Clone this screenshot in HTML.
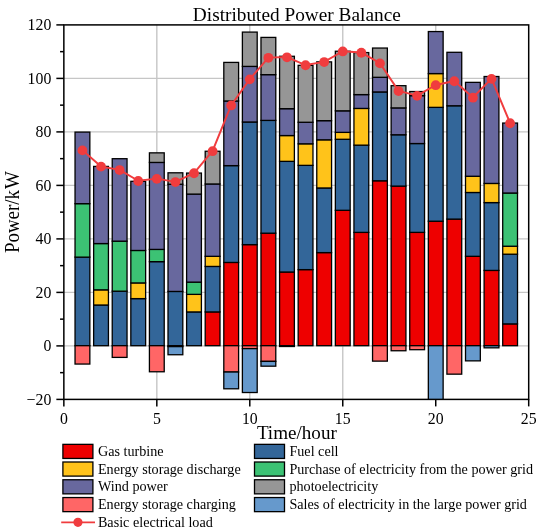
<!DOCTYPE html><html><head><meta charset="utf-8"><title>Distributed Power Balance</title>
<style>html,body{margin:0;padding:0;background:#fff}svg{display:block}text{font-family:"Liberation Serif","Times New Roman",serif;fill:#000}</style></head><body>
<svg width="550" height="532" viewBox="0 0 550 532">
<rect width="550" height="532" fill="#fff"/>
<g stroke="#c6c6c6" stroke-width="1.4"><line x1="156.82" y1="24.90" x2="156.82" y2="399.40"/><line x1="249.79" y1="24.90" x2="249.79" y2="399.40"/><line x1="342.76" y1="24.90" x2="342.76" y2="399.40"/><line x1="435.73" y1="24.90" x2="435.73" y2="399.40"/><line x1="63.85" y1="345.90" x2="528.70" y2="345.90"/><line x1="63.85" y1="292.40" x2="528.70" y2="292.40"/><line x1="63.85" y1="238.90" x2="528.70" y2="238.90"/><line x1="63.85" y1="185.40" x2="528.70" y2="185.40"/><line x1="63.85" y1="131.90" x2="528.70" y2="131.90"/><line x1="63.85" y1="78.40" x2="528.70" y2="78.40"/></g>
<defs><clipPath id="cp"><rect x="63.85" y="24.90" width="464.85" height="374.50"/></clipPath></defs>
<g clip-path="url(#cp)" stroke="#000" stroke-width="1.3"><rect x="75.04" y="257.12" width="14.8" height="88.58" fill="#336699"/><rect x="75.04" y="203.66" width="14.8" height="53.47" fill="#3CC274"/><rect x="75.04" y="132.10" width="14.8" height="71.55" fill="#68689E"/><rect x="75.04" y="345.70" width="14.8" height="18.35" fill="#FF6666"/><rect x="93.64" y="305.00" width="14.8" height="40.70" fill="#336699"/><rect x="93.64" y="289.84" width="14.8" height="15.16" fill="#FFC31A"/><rect x="93.64" y="243.56" width="14.8" height="46.28" fill="#3CC274"/><rect x="93.64" y="166.42" width="14.8" height="77.14" fill="#68689E"/><rect x="112.23" y="291.17" width="14.8" height="54.53" fill="#336699"/><rect x="112.23" y="241.16" width="14.8" height="50.01" fill="#3CC274"/><rect x="112.23" y="158.70" width="14.8" height="82.46" fill="#68689E"/><rect x="112.23" y="345.70" width="14.8" height="11.70" fill="#FF6666"/><rect x="130.83" y="298.62" width="14.8" height="47.08" fill="#336699"/><rect x="130.83" y="282.92" width="14.8" height="15.69" fill="#FFC31A"/><rect x="130.83" y="250.47" width="14.8" height="32.45" fill="#3CC274"/><rect x="130.83" y="181.31" width="14.8" height="69.16" fill="#68689E"/><rect x="149.42" y="261.64" width="14.8" height="84.06" fill="#336699"/><rect x="149.42" y="249.41" width="14.8" height="12.24" fill="#3CC274"/><rect x="149.42" y="162.43" width="14.8" height="86.98" fill="#68689E"/><rect x="149.42" y="152.85" width="14.8" height="9.58" fill="#969696"/><rect x="149.42" y="345.70" width="14.8" height="26.07" fill="#FF6666"/><rect x="168.01" y="291.44" width="14.8" height="54.26" fill="#336699"/><rect x="168.01" y="184.24" width="14.8" height="107.20" fill="#68689E"/><rect x="168.01" y="172.80" width="14.8" height="11.44" fill="#969696"/><rect x="168.01" y="345.70" width="14.8" height="0.93" fill="#FF6666"/><rect x="168.01" y="346.63" width="14.8" height="8.11" fill="#6699CC"/><rect x="186.61" y="311.92" width="14.8" height="33.78" fill="#336699"/><rect x="186.61" y="294.36" width="14.8" height="17.56" fill="#FFC31A"/><rect x="186.61" y="282.13" width="14.8" height="12.24" fill="#3CC274"/><rect x="186.61" y="194.08" width="14.8" height="88.05" fill="#68689E"/><rect x="186.61" y="173.07" width="14.8" height="21.01" fill="#969696"/><rect x="205.20" y="311.92" width="14.8" height="33.78" fill="#EE0000"/><rect x="205.20" y="266.43" width="14.8" height="45.49" fill="#336699"/><rect x="205.20" y="256.32" width="14.8" height="10.11" fill="#FFC31A"/><rect x="205.20" y="183.97" width="14.8" height="72.35" fill="#68689E"/><rect x="205.20" y="151.25" width="14.8" height="32.72" fill="#969696"/><rect x="223.80" y="262.44" width="14.8" height="83.26" fill="#EE0000"/><rect x="223.80" y="165.62" width="14.8" height="96.82" fill="#336699"/><rect x="223.80" y="100.98" width="14.8" height="64.64" fill="#68689E"/><rect x="223.80" y="62.41" width="14.8" height="38.57" fill="#969696"/><rect x="223.80" y="345.70" width="14.8" height="26.33" fill="#FF6666"/><rect x="223.80" y="372.03" width="14.8" height="16.76" fill="#6699CC"/><rect x="242.39" y="244.62" width="14.8" height="101.08" fill="#EE0000"/><rect x="242.39" y="121.99" width="14.8" height="122.63" fill="#336699"/><rect x="242.39" y="66.40" width="14.8" height="55.59" fill="#68689E"/><rect x="242.39" y="32.09" width="14.8" height="34.31" fill="#969696"/><rect x="242.39" y="345.70" width="14.8" height="2.93" fill="#FF6666"/><rect x="242.39" y="348.63" width="14.8" height="43.89" fill="#6699CC"/><rect x="260.98" y="233.18" width="14.8" height="112.52" fill="#EE0000"/><rect x="260.98" y="120.40" width="14.8" height="112.78" fill="#336699"/><rect x="260.98" y="74.65" width="14.8" height="45.75" fill="#68689E"/><rect x="260.98" y="37.41" width="14.8" height="37.24" fill="#969696"/><rect x="260.98" y="345.70" width="14.8" height="15.69" fill="#FF6666"/><rect x="260.98" y="361.39" width="14.8" height="4.79" fill="#6699CC"/><rect x="279.58" y="272.02" width="14.8" height="73.68" fill="#EE0000"/><rect x="279.58" y="161.36" width="14.8" height="110.66" fill="#336699"/><rect x="279.58" y="135.56" width="14.8" height="25.80" fill="#FFC31A"/><rect x="279.58" y="108.69" width="14.8" height="26.87" fill="#68689E"/><rect x="279.58" y="56.29" width="14.8" height="52.40" fill="#969696"/><rect x="279.58" y="345.70" width="14.8" height="0.80" fill="#FF6666"/><rect x="298.17" y="269.62" width="14.8" height="76.08" fill="#EE0000"/><rect x="298.17" y="165.35" width="14.8" height="104.27" fill="#336699"/><rect x="298.17" y="143.81" width="14.8" height="21.55" fill="#FFC31A"/><rect x="298.17" y="122.26" width="14.8" height="21.55" fill="#68689E"/><rect x="298.17" y="65.34" width="14.8" height="56.92" fill="#969696"/><rect x="316.77" y="252.60" width="14.8" height="93.10" fill="#EE0000"/><rect x="316.77" y="187.96" width="14.8" height="64.64" fill="#336699"/><rect x="316.77" y="139.82" width="14.8" height="48.15" fill="#FFC31A"/><rect x="316.77" y="120.66" width="14.8" height="19.15" fill="#68689E"/><rect x="316.77" y="61.88" width="14.8" height="58.79" fill="#969696"/><rect x="335.36" y="210.31" width="14.8" height="135.39" fill="#EE0000"/><rect x="335.36" y="139.28" width="14.8" height="71.02" fill="#336699"/><rect x="335.36" y="132.37" width="14.8" height="6.92" fill="#FFC31A"/><rect x="335.36" y="110.82" width="14.8" height="21.55" fill="#68689E"/><rect x="335.36" y="51.24" width="14.8" height="59.58" fill="#969696"/><rect x="353.95" y="232.38" width="14.8" height="113.32" fill="#EE0000"/><rect x="353.95" y="145.14" width="14.8" height="87.25" fill="#336699"/><rect x="353.95" y="108.43" width="14.8" height="36.71" fill="#FFC31A"/><rect x="353.95" y="94.60" width="14.8" height="13.83" fill="#68689E"/><rect x="353.95" y="52.57" width="14.8" height="42.03" fill="#969696"/><rect x="372.55" y="180.78" width="14.8" height="164.92" fill="#EE0000"/><rect x="372.55" y="91.94" width="14.8" height="88.84" fill="#336699"/><rect x="372.55" y="77.31" width="14.8" height="14.63" fill="#68689E"/><rect x="372.55" y="48.05" width="14.8" height="29.26" fill="#969696"/><rect x="372.55" y="345.70" width="14.8" height="15.43" fill="#FF6666"/><rect x="391.14" y="186.10" width="14.8" height="159.60" fill="#EE0000"/><rect x="391.14" y="134.76" width="14.8" height="51.34" fill="#336699"/><rect x="391.14" y="107.90" width="14.8" height="26.87" fill="#68689E"/><rect x="391.14" y="85.69" width="14.8" height="22.21" fill="#969696"/><rect x="391.14" y="345.70" width="14.8" height="5.05" fill="#FF6666"/><rect x="409.74" y="232.38" width="14.8" height="113.32" fill="#EE0000"/><rect x="409.74" y="143.54" width="14.8" height="88.84" fill="#336699"/><rect x="409.74" y="95.66" width="14.8" height="47.88" fill="#68689E"/><rect x="409.74" y="91.54" width="14.8" height="4.12" fill="#969696"/><rect x="409.74" y="345.70" width="14.8" height="3.99" fill="#FF6666"/><rect x="428.33" y="221.21" width="14.8" height="124.49" fill="#EE0000"/><rect x="428.33" y="107.36" width="14.8" height="113.85" fill="#336699"/><rect x="428.33" y="73.58" width="14.8" height="33.78" fill="#FFC31A"/><rect x="428.33" y="31.55" width="14.8" height="42.03" fill="#68689E"/><rect x="428.33" y="345.70" width="14.8" height="58.52" fill="#6699CC"/><rect x="446.92" y="219.08" width="14.8" height="126.62" fill="#EE0000"/><rect x="446.92" y="105.77" width="14.8" height="113.32" fill="#336699"/><rect x="446.92" y="52.30" width="14.8" height="53.47" fill="#68689E"/><rect x="446.92" y="345.70" width="14.8" height="28.46" fill="#FF6666"/><rect x="465.52" y="256.32" width="14.8" height="89.38" fill="#EE0000"/><rect x="465.52" y="192.48" width="14.8" height="63.84" fill="#336699"/><rect x="465.52" y="176.26" width="14.8" height="16.23" fill="#FFC31A"/><rect x="465.52" y="82.36" width="14.8" height="93.90" fill="#68689E"/><rect x="465.52" y="345.70" width="14.8" height="15.16" fill="#6699CC"/><rect x="484.11" y="270.42" width="14.8" height="75.28" fill="#EE0000"/><rect x="484.11" y="202.59" width="14.8" height="67.83" fill="#336699"/><rect x="484.11" y="183.44" width="14.8" height="19.15" fill="#FFC31A"/><rect x="484.11" y="76.51" width="14.8" height="106.93" fill="#68689E"/><rect x="484.11" y="345.70" width="14.8" height="2.13" fill="#6699CC"/><rect x="502.71" y="323.89" width="14.8" height="21.81" fill="#EE0000"/><rect x="502.71" y="254.20" width="14.8" height="69.69" fill="#336699"/><rect x="502.71" y="246.22" width="14.8" height="7.98" fill="#FFC31A"/><rect x="502.71" y="193.02" width="14.8" height="53.20" fill="#3CC274"/><rect x="502.71" y="123.06" width="14.8" height="69.96" fill="#68689E"/></g>
<polyline points="82.44,150.19 101.04,166.42 119.63,169.87 138.23,180.78 156.82,178.65 175.41,181.84 194.01,173.07 212.60,150.99 231.20,105.24 249.79,79.17 268.38,57.62 286.98,57.09 305.57,65.07 324.17,61.88 342.76,51.24 361.35,52.57 379.95,63.21 398.54,90.87 417.14,95.66 435.73,85.02 454.32,81.03 472.92,97.52 491.51,78.64 510.11,123.06" fill="none" stroke="#F03C3E" stroke-width="1.95" stroke-linejoin="round"/>
<g fill="#F03C3E"><circle cx="82.44" cy="150.39" r="4.9"/><circle cx="101.04" cy="166.62" r="4.9"/><circle cx="119.63" cy="170.07" r="4.9"/><circle cx="138.23" cy="180.98" r="4.9"/><circle cx="156.82" cy="178.85" r="4.9"/><circle cx="175.41" cy="182.04" r="4.9"/><circle cx="194.01" cy="173.27" r="4.9"/><circle cx="212.60" cy="151.19" r="4.9"/><circle cx="231.20" cy="105.44" r="4.9"/><circle cx="249.79" cy="79.37" r="4.9"/><circle cx="268.38" cy="57.82" r="4.9"/><circle cx="286.98" cy="57.29" r="4.9"/><circle cx="305.57" cy="65.27" r="4.9"/><circle cx="324.17" cy="62.08" r="4.9"/><circle cx="342.76" cy="51.44" r="4.9"/><circle cx="361.35" cy="52.77" r="4.9"/><circle cx="379.95" cy="63.41" r="4.9"/><circle cx="398.54" cy="91.07" r="4.9"/><circle cx="417.14" cy="95.86" r="4.9"/><circle cx="435.73" cy="85.22" r="4.9"/><circle cx="454.32" cy="81.23" r="4.9"/><circle cx="472.92" cy="97.72" r="4.9"/><circle cx="491.51" cy="78.84" r="4.9"/><circle cx="510.11" cy="123.26" r="4.9"/></g>
<g stroke="#000" stroke-width="1.5" stroke-linecap="butt"><rect x="63.85" y="24.90" width="464.85" height="374.50" fill="none"/><line x1="63.85" y1="399.40" x2="63.85" y2="406.40"/><line x1="156.82" y1="399.40" x2="156.82" y2="406.40"/><line x1="249.79" y1="399.40" x2="249.79" y2="406.40"/><line x1="342.76" y1="399.40" x2="342.76" y2="406.40"/><line x1="435.73" y1="399.40" x2="435.73" y2="406.40"/><line x1="528.70" y1="399.40" x2="528.70" y2="406.40"/><line x1="63.85" y1="399.40" x2="56.35" y2="399.40"/><line x1="63.85" y1="345.90" x2="56.35" y2="345.90"/><line x1="63.85" y1="292.40" x2="56.35" y2="292.40"/><line x1="63.85" y1="238.90" x2="56.35" y2="238.90"/><line x1="63.85" y1="185.40" x2="56.35" y2="185.40"/><line x1="63.85" y1="131.90" x2="56.35" y2="131.90"/><line x1="63.85" y1="78.40" x2="56.35" y2="78.40"/><line x1="63.85" y1="24.90" x2="56.35" y2="24.90"/><line x1="63.85" y1="372.65" x2="60.05" y2="372.65"/><line x1="63.85" y1="319.15" x2="60.05" y2="319.15"/><line x1="63.85" y1="265.65" x2="60.05" y2="265.65"/><line x1="63.85" y1="212.15" x2="60.05" y2="212.15"/><line x1="63.85" y1="158.65" x2="60.05" y2="158.65"/><line x1="63.85" y1="105.15" x2="60.05" y2="105.15"/><line x1="63.85" y1="51.65" x2="60.05" y2="51.65"/></g>
<g font-size="17"><text transform="translate(63.85,423.90) scale(0.93,1)" text-anchor="middle">0</text><text transform="translate(156.82,423.90) scale(0.93,1)" text-anchor="middle">5</text><text transform="translate(249.79,423.90) scale(0.93,1)" text-anchor="middle">10</text><text transform="translate(342.76,423.90) scale(0.93,1)" text-anchor="middle">15</text><text transform="translate(435.73,423.90) scale(0.93,1)" text-anchor="middle">20</text><text transform="translate(528.70,423.90) scale(0.93,1)" text-anchor="middle">25</text><text transform="translate(51.30,404.50) scale(0.93,1)" text-anchor="end">−20</text><text transform="translate(51.30,351.00) scale(0.93,1)" text-anchor="end">0</text><text transform="translate(51.30,297.50) scale(0.93,1)" text-anchor="end">20</text><text transform="translate(51.30,244.00) scale(0.93,1)" text-anchor="end">40</text><text transform="translate(51.30,190.50) scale(0.93,1)" text-anchor="end">60</text><text transform="translate(51.30,137.00) scale(0.93,1)" text-anchor="end">80</text><text transform="translate(51.30,83.50) scale(0.93,1)" text-anchor="end">100</text><text transform="translate(51.30,30.00) scale(0.93,1)" text-anchor="end">120</text></g>
<text transform="translate(296.8,20.5) scale(0.975,1)" font-size="19.8" text-anchor="middle">Distributed Power Balance</text>
<text x="296.85" y="438.5" font-size="19.1" text-anchor="middle">Time/hour</text>
<text transform="translate(19.3,212.1) rotate(-90) scale(0.945,1)" font-size="20" text-anchor="middle">Power/k<tspan dx="1.2">W</tspan></text>
<g font-size="14.7"><rect x="62.9" y="444.35" width="30" height="14.1" fill="#EE0000" stroke="#000" stroke-width="1.3"/><text transform="translate(97.90,456.00) scale(0.965,1)" text-anchor="start">Gas turbine</text><rect x="62.9" y="462.00" width="30" height="14.1" fill="#FFC31A" stroke="#000" stroke-width="1.3"/><text transform="translate(97.90,473.65) scale(0.965,1)" text-anchor="start">Energy storage discharge</text><rect x="62.9" y="479.75" width="30" height="14.1" fill="#68689E" stroke="#000" stroke-width="1.3"/><text transform="translate(97.90,491.40) scale(0.965,1)" text-anchor="start">Wind power</text><rect x="62.9" y="497.55" width="30" height="14.1" fill="#FF6666" stroke="#000" stroke-width="1.3"/><text transform="translate(97.90,509.20) scale(0.965,1)" text-anchor="start">Energy storage charging</text><rect x="254.5" y="444.35" width="30" height="14.1" fill="#336699" stroke="#000" stroke-width="1.3"/><text transform="translate(289.40,456.00) scale(0.964,1)" text-anchor="start">Fuel cell</text><rect x="254.5" y="462.00" width="30" height="14.1" fill="#3CC274" stroke="#000" stroke-width="1.3"/><text transform="translate(289.40,473.65) scale(0.964,1)" text-anchor="start">Purchase of electricity from the power grid</text><rect x="254.5" y="479.75" width="30" height="14.1" fill="#969696" stroke="#000" stroke-width="1.3"/><text transform="translate(289.40,491.40) scale(0.964,1)" text-anchor="start">photoelectricity</text><rect x="254.5" y="497.55" width="30" height="14.1" fill="#6699CC" stroke="#000" stroke-width="1.3"/><text transform="translate(289.40,509.20) scale(0.964,1)" text-anchor="start">Sales of electricity in the large power grid</text><line x1="61.2" y1="522.3" x2="95" y2="522.3" stroke="#F03C3E" stroke-width="1.7"/><circle cx="77.95" cy="522.3" r="4.6" fill="#F03C3E"/><text transform="translate(97.90,526.90) scale(0.965,1)" text-anchor="start">Basic electrical load</text></g>
</svg></body></html>
